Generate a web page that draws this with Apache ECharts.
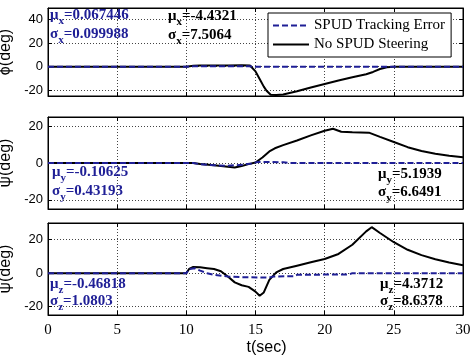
<!DOCTYPE html>
<html><head><meta charset="utf-8">
<script src="https://cdn.jsdelivr.net/npm/echarts@6/dist/echarts.min.js"></script>
<style>html,body{margin:0;padding:0;background:#fff}#c{width:474px;height:355px}</style>
</head><body><div id="c"></div>
<script>
// ---- data ----
const seriesNames = ['SPUD Tracking Error', 'No SPUD Steering'];
const yNames = ['\u03D5(deg)', '\u03C8(deg)', '\u03C8(deg)'];
const xTickStep = 5;
const yTicks1 = [-20, 0, 20, 40];
const yTicks2 = [-20, 0, 20];
const yTicks3 = [-20, 0, 20];

// panel 1 (phi)
const phiTrackT = [0, 10, 10.5, 14.5, 15, 30];
const phiTrackV = [0, 0, 0.3, 0.3, 0, 0];
const phiNoT = [0, 10, 10.5, 11, 12, 13, 14, 14.6, 15, 15.3, 15.6, 15.8, 16.1, 16.5, 17, 18, 19, 20, 21, 22, 23, 23.5, 24, 24.5, 25, 30];
const phiNoV = [0, 0, 0.8, 1, 1, 1.1, 1.2, 1, -4, -10.5, -17, -20.5, -24, -24.2, -23.8, -21, -17.8, -14.8, -11.8, -9, -6.5, -4.5, -2, -0.5, 0, 0];

// panel 2 (psi, y)
const psiYTrackT = [0, 10.5, 11, 12, 13, 14, 14.7, 15.2, 16, 17, 17.5, 30];
const psiYTrackV = [0, 0, -0.7, -1.2, -1.5, -1.0, -0.3, 0.6, 0.6, 0.4, 0, 0];
const psiYNoT = [0, 10.5, 11, 12, 13, 13.5, 14, 14.5, 15, 15.5, 16, 16.4, 17, 18, 19, 20, 20.6, 21.2, 22, 23.2, 24, 25, 26, 27, 28, 29, 30];
const psiYNoV = [0, 0, -0.5, -1.2, -2, -2.4, -1.6, -0.6, 0.3, 3, 6.3, 8, 9.7, 12.2, 15, 17.5, 18.6, 17, 16.7, 16.5, 14.2, 11.4, 8.6, 6.5, 5, 3.9, 3.1];

// panel 3 (psi, z)
const psiZTrackT = [0, 10, 10.2, 10.6, 11, 11.5, 12, 13, 14, 16, 16.3, 17.8, 18, 21.8, 22, 30];
const psiZTrackV = [0, 0, 2.5, 3, 1.5, 0, -1, -2, -2.4, -2.6, -2, -1.8, -1, -0.7, 0, 0];
const psiZNoT = [0, 10, 10.2, 10.5, 11, 11.5, 12, 12.5, 13, 13.5, 14, 14.5, 15, 15.3, 15.6, 16, 16.5, 17, 18, 19, 20, 21, 22, 23, 23.4, 24, 25, 26, 27, 28, 29, 30];
const psiZNoV = [0, 0, 2.5, 3.7, 3.5, 3, 2.5, 1.2, -2, -5.5, -7.2, -8.2, -11, -13.5, -11.5, -4, 0.5, 2.5, 4.5, 6.5, 8.5, 11.5, 17, 25, 27.5, 24, 18.5, 14, 10.8, 8.3, 6.4, 4.8];

// statistics annotations
const statsTrack = [['x', '0.067446', '0.099988'], ['y', '-0.10625', '0.43193'], ['z', '-0.46818', '1.0803']];
const statsNo = [['x', '-4.4321', '7.5064'], ['y', '5.1939', '6.6491'], ['z', '4.3712', '8.6378']];

// ---- chart ----
const SERIF = 'Liberation Serif';
const SANS = 'Liberation Sans';
const BLUE = '#1f1f96';
const grids = [
  {left: 48, top: 8, width: 415, height: 88},
  {left: 48, top: 117, width: 415, height: 92},
  {left: 48, top: 223, width: 415, height: 92}
];
const yRanges = [[-25, 50], [-25, 25], [-25, 30]];
const yTicks = [yTicks1, yTicks2, yTicks3];
const panels = [
  [[phiTrackT, phiTrackV], [phiNoT, phiNoV]],
  [[psiYTrackT, psiYTrackV], [psiYNoT, psiYNoV]],
  [[psiZTrackT, psiZTrackV], [psiZNoT, psiZNoV]]
];
const zip = (t, v) => t.map((x, i) => [x, v[i]]);
const dotted = {show: true, lineStyle: {color: '#444', width: 1, type: [1, 2]}};

const xAxis = [], yAxis = [], series = [];
grids.forEach((g, i) => {
  xAxis.push({
    type: 'value', gridIndex: i, position: 'bottom', min: 0, max: 30, interval: xTickStep,
    axisLine: {show: true, onZero: false, lineStyle: {color: '#000', width: 1}},
    axisTick: {show: true, inside: true, length: 4, lineStyle: {color: '#000'}},
    axisLabel: {show: i === 2, fontFamily: SERIF, fontSize: 15, color: '#000', margin: 8},
    splitLine: dotted,
    name: i === 2 ? 't(sec)' : '', nameLocation: 'middle', nameGap: 25,
    nameTextStyle: {fontFamily: SANS, fontSize: 16, color: '#000', padding: [0, 0, 0, 22]}
  });
  xAxis.push({
    type: 'value', gridIndex: i, position: 'top', min: 0, max: 30, interval: xTickStep,
    axisLine: {show: true, onZero: false, lineStyle: {color: '#000', width: 1}},
    axisTick: {show: true, inside: true, length: 4, lineStyle: {color: '#000'}},
    axisLabel: {show: false}, splitLine: {show: false}
  });
  yAxis.push({
    type: 'value', gridIndex: i, position: 'left', min: yRanges[i][0], max: yRanges[i][1],
    axisLine: {show: true, onZero: false, lineStyle: {color: '#000', width: 1}},
    axisTick: {show: true, inside: true, length: 4, lineStyle: {color: '#000'}, customValues: yTicks[i]},
    axisLabel: {fontFamily: SANS, fontSize: 13, color: '#000', margin: 5, customValues: yTicks[i]},
    splitLine: dotted,
    name: yNames[i], nameLocation: 'middle', nameGap: 30, nameRotate: 90,
    nameTextStyle: {fontFamily: SANS, fontSize: 16, color: '#000'}
  });
  yAxis.push({
    type: 'value', gridIndex: i, position: 'right', min: yRanges[i][0], max: yRanges[i][1],
    axisLine: {show: true, onZero: false, lineStyle: {color: '#000', width: 1}},
    axisTick: {show: true, inside: true, length: 4, lineStyle: {color: '#000'}, customValues: yTicks[i]},
    axisLabel: {show: false, customValues: yTicks[i]}, splitLine: {show: false}
  });
  const [trk, no] = panels[i];
  series.push({
    name: seriesNames[1], type: 'line', xAxisIndex: 2 * i, yAxisIndex: 2 * i,
    data: zip(no[0], no[1]), symbol: 'none', smooth: false, z: 3,
    lineStyle: {color: '#000', width: 2}, itemStyle: {color: '#000'}
  });
  series.push({
    name: seriesNames[0], type: 'line', xAxisIndex: 2 * i, yAxisIndex: 2 * i,
    data: zip(trk[0], trk[1]), symbol: 'none', smooth: false, z: 4,
    lineStyle: {color: BLUE, width: 2, type: [6, 3]}, itemStyle: {color: BLUE}
  });
});

function stat(left, top, sym, sub, val, color) {
  return {
    type: 'text', left: left, top: top, z: 100,
    style: {
      text: '{m|' + sym + '}{s|' + sub + '}{m|=' + val + '}',
      fill: color,
      rich: {
        m: {fontFamily: SERIF, fontSize: 15, fontWeight: 'bold', lineHeight: 16, verticalAlign: 'top', fill: color},
        s: {fontFamily: SERIF, fontSize: 11, fontWeight: 'bold', lineHeight: 12, verticalAlign: 'top', padding: [8, 0, 0, 0], fill: color}
      }
    }
  };
}
const trackPos = [[50, 8, 27], [52, 165, 184], [50, 277, 294]];
const noPos = [[168, 9, 28], [378, 167, 185], [380, 277, 294]];
const graphic = [];
statsTrack.forEach((s, i) => {
  graphic.push(stat(trackPos[i][0], trackPos[i][1], '\u03BC', s[0], s[1], BLUE));
  graphic.push(stat(trackPos[i][0], trackPos[i][2], '\u03C3', s[0], s[2], BLUE));
});
statsNo.forEach((s, i) => {
  graphic.push(stat(noPos[i][0], noPos[i][1], '\u03BC', s[0], s[1], '#000'));
  graphic.push(stat(noPos[i][0], noPos[i][2], '\u03C3', s[0], s[2], '#000'));
});

const chart = echarts.init(document.getElementById('c'), null, {renderer: 'canvas'});
chart.setOption({
  animation: false,
  backgroundColor: '#fff',
  grid: grids.map(g => Object.assign({show: true, borderColor: '#000', borderWidth: 1, backgroundColor: 'transparent', outerBoundsMode: 'none', containLabel: false}, g)),
  xAxis, yAxis, series, graphic,
  legend: {
    data: seriesNames, orient: 'vertical', left: 268, top: 13,
    backgroundColor: '#fff', borderColor: '#000', borderWidth: 1, borderRadius: 0,
    padding: [5, 6, 5, 4], itemGap: 4, itemWidth: 36, itemHeight: 14,
    itemStyle: {opacity: 0},
    textStyle: {fontFamily: SERIF, fontSize: 15, color: '#000'}
  }
});
</script></body></html>
